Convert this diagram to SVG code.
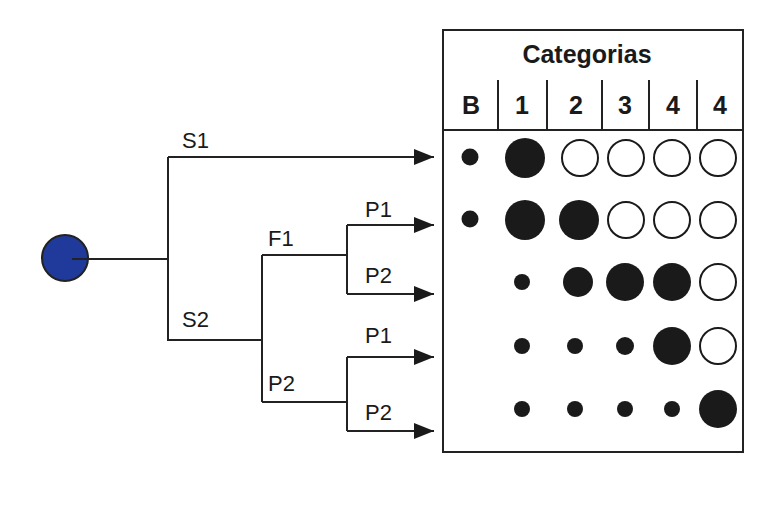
<svg xmlns="http://www.w3.org/2000/svg" width="768" height="512" viewBox="0 0 768 512">
<style>
.t{font-family:"Liberation Sans",Arial,sans-serif;font-size:22px;fill:#1a1a1a}
.h{font-family:"Liberation Sans",Arial,sans-serif;font-size:25px;font-weight:bold;fill:#1a1a1a;text-anchor:middle}
.ln{stroke:#222;stroke-width:2;fill:none}
.f{fill:#1a1a1a}
.o{fill:#fff;stroke:#1a1a1a;stroke-width:2}
</style>
<defs><marker id="a" viewBox="0 0 10 10" refX="10" refY="5" markerWidth="10" markerHeight="8" markerUnits="userSpaceOnUse" orient="auto"><path d="M0,0L10,5L0,10z" fill="#1a1a1a"/></marker>
<marker id="b" viewBox="0 0 20 16" refX="20" refY="8" markerWidth="20" markerHeight="16" markerUnits="userSpaceOnUse" orient="auto"><path d="M0,0L20,8L0,16z" fill="#1a1a1a"/></marker></defs>
<rect width="768" height="512" fill="#fff"/>
<g id="root"><circle cx="65" cy="258" r="23" fill="#1f3a9a" stroke="#222" stroke-width="2"/></g>
<g id="connectors" class="ln">
<path d="M72 259H168M168 157V340H262M262 255V402"/>
<path d="M168 157H434" marker-end="url(#b)"/>
<path d="M262 255H347M347 225V294"/>
<path d="M347 225H434" marker-end="url(#b)"/>
<path d="M347 294H434" marker-end="url(#b)"/>
<path d="M262 402H347M347 357V431"/>
<path d="M347 357H434" marker-end="url(#b)"/>
<path d="M347 431H434" marker-end="url(#b)"/>
</g>
<g id="labels">
<text class="t" x="182" y="148">S1</text>
<text class="t" x="182" y="327">S2</text>
<text class="t" x="268" y="246">F1</text>
<text class="t" x="268" y="391">P2</text>
<text class="t" x="365" y="217">P1</text>
<text class="t" x="365" y="283">P2</text>
<text class="t" x="365" y="343">P1</text>
<text class="t" x="365" y="420">P2</text>
</g>
<g id="table">
<rect x="443" y="30" width="300" height="422" fill="none" stroke="#222" stroke-width="2"/>
<path class="ln" d="M443 130H743M498 80V130M547 80V130M602 80V130M649 80V130M697 80V130"/>
<text class="h" x="587" y="63">Categorias</text>
<text class="h" x="471" y="114">B</text>
<text class="h" x="522" y="114">1</text>
<text class="h" x="576" y="114">2</text>
<text class="h" x="625" y="114">3</text>
<text class="h" x="673" y="114">4</text>
<text class="h" x="720" y="114">4</text>
</g>
<g id="dots">
<circle class="f" cx="470" cy="157" r="8.5"/><circle class="f" cx="525" cy="158" r="20"/>
<circle class="o" cx="580" cy="158" r="18"/><circle class="o" cx="626" cy="158" r="18"/><circle class="o" cx="672" cy="158" r="18"/><circle class="o" cx="718" cy="158" r="18"/>
<circle class="f" cx="470" cy="219" r="8.5"/><circle class="f" cx="525" cy="220" r="20"/><circle class="f" cx="579" cy="220" r="20"/>
<circle class="o" cx="626" cy="220" r="18"/><circle class="o" cx="672" cy="220" r="18"/><circle class="o" cx="718" cy="220" r="18"/>
<circle class="f" cx="522" cy="282" r="8"/><circle class="f" cx="578" cy="282" r="15"/><circle class="f" cx="625" cy="282" r="19"/><circle class="f" cx="672" cy="282" r="19"/><circle class="o" cx="718" cy="282" r="18"/>
<circle class="f" cx="522" cy="346" r="8"/><circle class="f" cx="575" cy="346" r="8"/><circle class="f" cx="625" cy="346" r="9"/><circle class="f" cx="672" cy="346" r="19"/><circle class="o" cx="718" cy="346" r="18"/>
<circle class="f" cx="522" cy="409" r="8"/><circle class="f" cx="575" cy="409" r="8"/><circle class="f" cx="625" cy="409" r="8"/><circle class="f" cx="672" cy="409" r="8"/><circle class="f" cx="718" cy="409" r="19"/>
</g>
</svg>
